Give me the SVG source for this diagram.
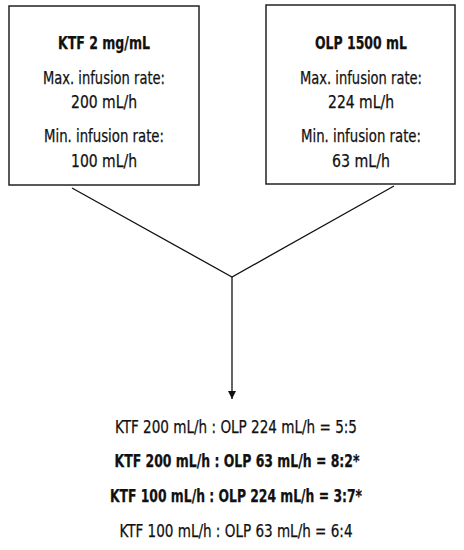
<svg xmlns="http://www.w3.org/2000/svg" width="464" height="550" viewBox="0 0 464 550">
<style>
.box{fill:#fff;stroke:#222;stroke-width:1.5}
text{font-family:"DejaVu Sans Condensed","Liberation Sans Narrow","Liberation Sans",sans-serif;font-size:17.5px;fill:#111;text-anchor:middle;stroke:#111;stroke-width:0.25}
.b{font-weight:bold}
.edge{stroke:#111;stroke-width:1.3;fill:none}
</style>
<defs>
<marker id="arr" markerWidth="10" markerHeight="10" refX="8" refY="4" orient="auto" markerUnits="userSpaceOnUse">
<path d="M0,0 L8,4 L0,8 Z" fill="#111"/>
</marker>
</defs>
<rect width="464" height="550" fill="#fff"/>
<g id="node-ktf">
<rect class="box" x="9" y="6" width="190" height="179"/>
<text class="b" x="104" y="49" textLength="92" lengthAdjust="spacingAndGlyphs">KTF 2 mg/mL</text>
<text x="104" y="84" textLength="122" lengthAdjust="spacingAndGlyphs">Max. infusion rate:</text>
<text x="104" y="108" textLength="66" lengthAdjust="spacingAndGlyphs">200 mL/h</text>
<text x="104" y="142" textLength="120" lengthAdjust="spacingAndGlyphs">Min. infusion rate:</text>
<text x="104" y="167" textLength="66" lengthAdjust="spacingAndGlyphs">100 mL/h</text>
</g>
<g id="node-olp">
<rect class="box" x="266" y="5" width="189" height="179"/>
<text class="b" x="361" y="49" textLength="92" lengthAdjust="spacingAndGlyphs">OLP 1500 mL</text>
<text x="361" y="84" textLength="122" lengthAdjust="spacingAndGlyphs">Max. infusion rate:</text>
<text x="361" y="108" textLength="66" lengthAdjust="spacingAndGlyphs">224 mL/h</text>
<text x="361" y="142" textLength="120" lengthAdjust="spacingAndGlyphs">Min. infusion rate:</text>
<text x="361" y="167" textLength="58" lengthAdjust="spacingAndGlyphs">63 mL/h</text>
</g>
<g id="connectors">
<path class="edge" d="M72,188 L232,277 L394,186"/>
<path class="edge" d="M232,277 L232,399" marker-end="url(#arr)"/>
</g>
<g id="node-results">
<text x="236" y="433" textLength="242" lengthAdjust="spacingAndGlyphs">KTF 200 mL/h : OLP 224 mL/h = 5:5</text>
<text class="b" x="237" y="467" textLength="245" lengthAdjust="spacingAndGlyphs">KTF 200 mL/h : OLP 63 mL/h = 8:2*</text>
<text class="b" x="236" y="502" textLength="252" lengthAdjust="spacingAndGlyphs">KTF 100 mL/h : OLP 224 mL/h = 3:7*</text>
<text x="236" y="537" textLength="233" lengthAdjust="spacingAndGlyphs">KTF 100 mL/h : OLP 63 mL/h = 6:4</text>
</g>
</svg>
